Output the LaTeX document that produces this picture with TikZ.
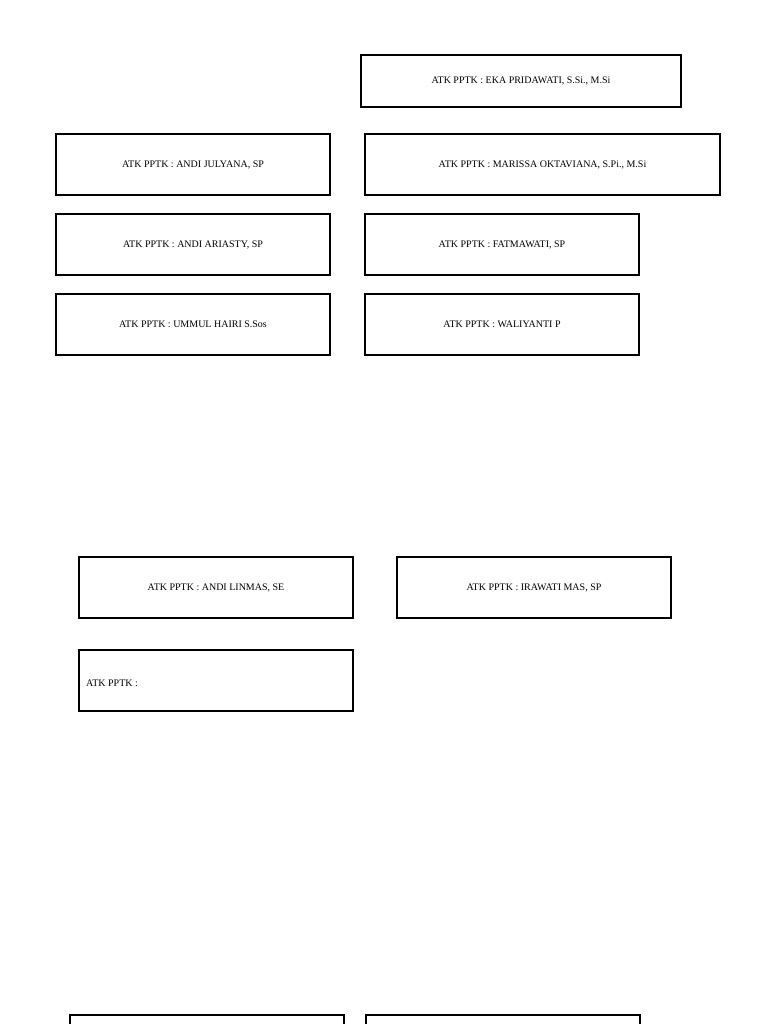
\documentclass[tikz,border=0pt]{standalone}
\usepackage{fontspec}
\setmainfont{Liberation Serif}
\begin{document}
\begin{tikzpicture}[x=1pt,y=-1pt,
  bx/.style={draw=black,line width=1.8pt,fill=white},
  lbl/.style={font=\fontsize{10}{12}\selectfont,inner sep=0pt}]
\useasboundingbox (0,0) rectangle (768,1024);
\clip (0,0) rectangle (768,1024);
\fill[white] (0,0) rectangle (768,1024);
\foreach \n/\a/\b/\c/\d/\t in {
 b1/361/55/681/107/{ATK PPTK : EKA PRIDAWATI, S.Si., M.Si},
 b2/56/134/330/195/{ATK PPTK : ANDI JULYANA, SP},
 b3/365/134/720/195/{ATK PPTK : MARISSA OKTAVIANA, S.Pi., M.Si},
 b4/56/214/330/275/{ATK PPTK : ANDI ARIASTY, SP},
 b5/365/214/639/275/{ATK PPTK : FATMAWATI, SP},
 b6/56/294/330/355/{ATK PPTK : UMMUL HAIRI S.Sos},
 b7/365/294/639/355/{ATK PPTK : WALIYANTI P},
 b8/79/557/353/618/{ATK PPTK : ANDI LINMAS, SE},
 b9/397/557/671/618/{ATK PPTK : IRAWATI MAS, SP}}{
  \draw[bx] (\a,\b) rectangle (\c,\d);
  \node[lbl] (\n) at ({(\a+\c)/2},{(\b+\d)/2}) {\t};
}
\draw[bx] (79,650) rectangle (353,711);
\node[lbl,anchor=west] (b10) at (86,683) {ATK PPTK :};
\draw[bx] (70,1015) rectangle (344,1060);
\draw[bx] (366,1015) rectangle (640,1060);
\end{tikzpicture}
\end{document}
